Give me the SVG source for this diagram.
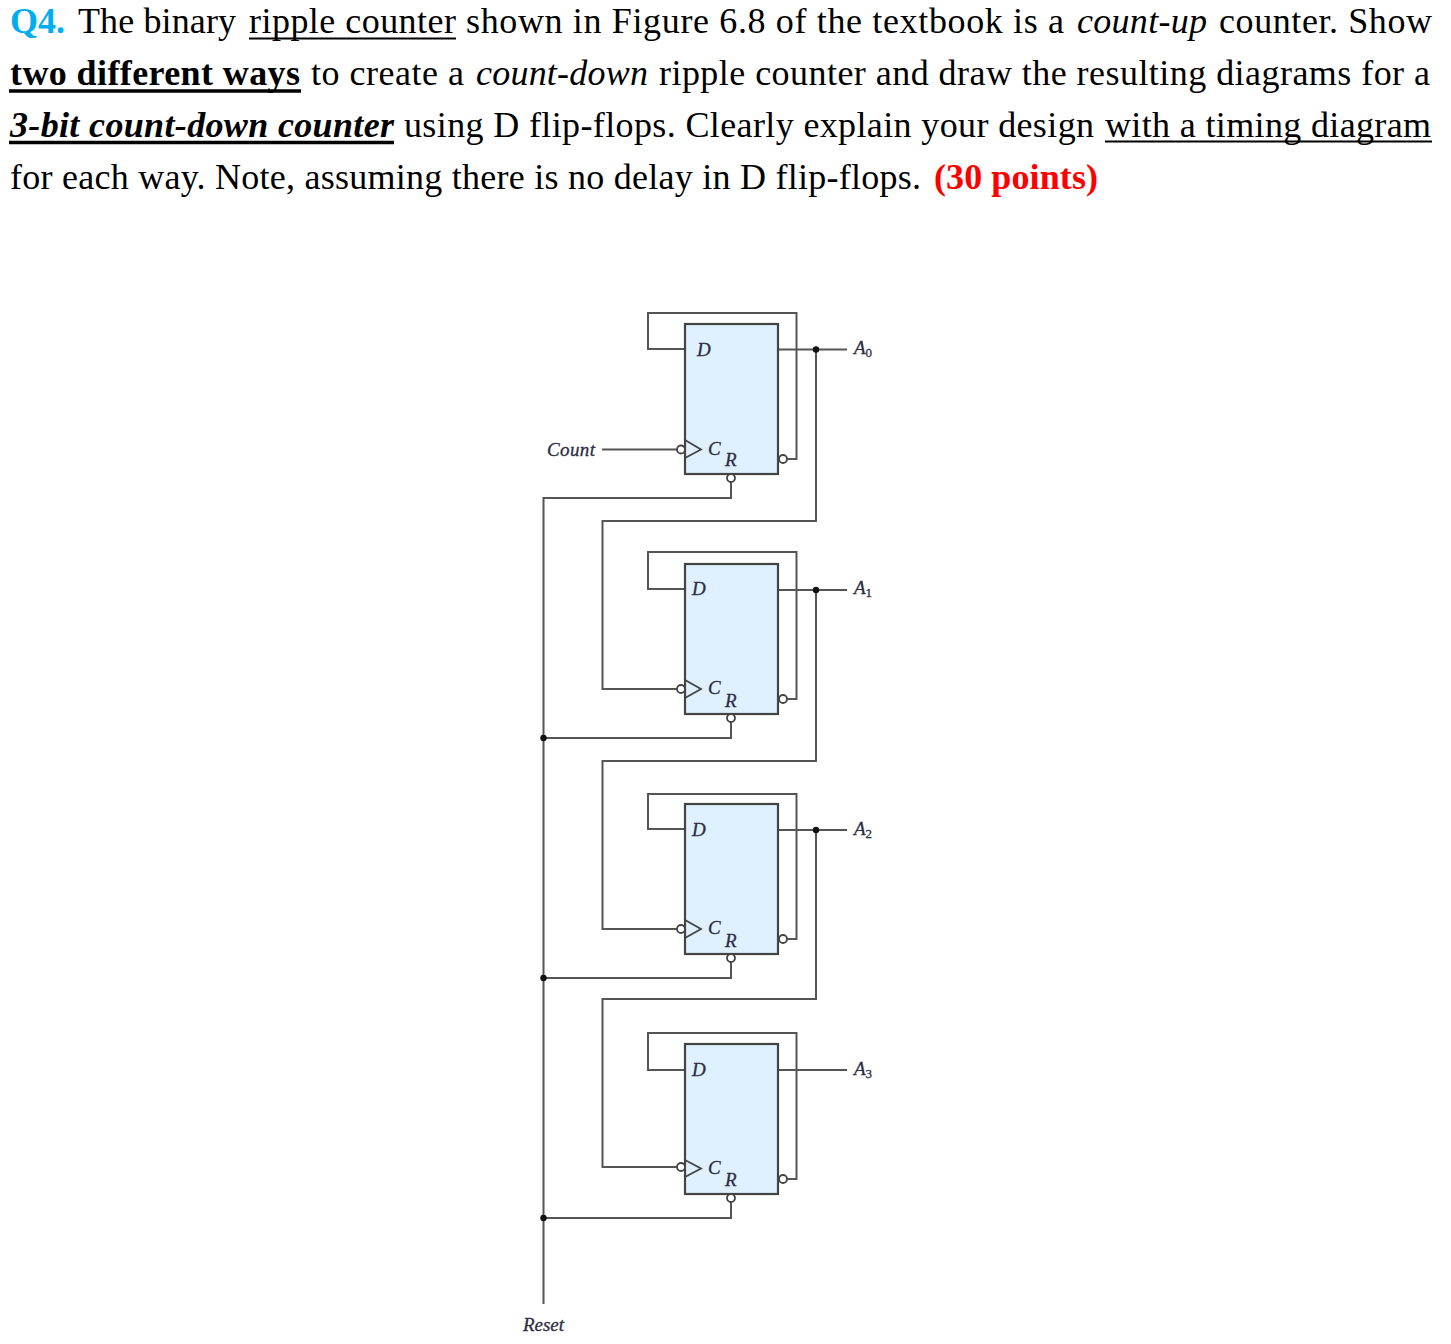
<svg xmlns="http://www.w3.org/2000/svg" width="1451" height="1344" viewBox="0 0 1451 1344">
<style>
.t{font-family:"Liberation Serif","Times New Roman",serif;font-size:36px;fill:#000}
.i{font-style:italic}
.b{font-weight:bold}
.w{fill:none;stroke:#555;stroke-width:2}
.box{fill:#dff0fe;stroke:#444;stroke-width:2.200}
.tri{fill:none;stroke:#444;stroke-width:1.800}
.bub{fill:#fff;stroke:#444;stroke-width:1.800}
.dot{fill:#111;stroke:none}
.l{font-family:"Liberation Serif","Times New Roman",serif;font-style:italic;font-size:19px;fill:#2c2c44;stroke:#2c2c44;stroke-width:.3}
.s{font-size:13px;font-style:normal}
.u{stroke:#000;stroke-width:2;fill:none}
.ub{stroke:#000;stroke-width:3.500;fill:none}
</style>
<rect width="1451" height="1344" fill="#fff"/>
<g id="question">
<text class="t b" x="10" y="33" style="fill:#00aeef" textLength="55" lengthAdjust="spacing">Q4.</text>
<text class="t" x="78" y="33" textLength="158" lengthAdjust="spacing">The binary</text>
<text class="t" x="249" y="33" textLength="207" lengthAdjust="spacing">ripple counter</text>
<text class="t" x="466" y="33" textLength="598" lengthAdjust="spacing">shown in Figure 6.8 of the textbook is a</text>
<text class="t i" x="1077" y="33" textLength="130" lengthAdjust="spacing">count-up</text>
<text class="t" x="1219" y="33" textLength="213" lengthAdjust="spacing">counter. Show</text>
<path class="u" d="M249 38.500H456"/>
<text class="t b" x="10" y="85" textLength="290" lengthAdjust="spacing">two different ways</text>
<text class="t" x="311" y="85" textLength="153" lengthAdjust="spacing">to create a</text>
<text class="t i" x="476" y="85" textLength="172" lengthAdjust="spacing">count-down</text>
<text class="t" x="659" y="85" textLength="771" lengthAdjust="spacing">ripple counter and draw the resulting diagrams for a</text>
<path class="ub" d="M9 91H301"/>
<text class="t b i" x="10" y="137" textLength="384" lengthAdjust="spacing">3-bit count-down counter</text>
<text class="t" x="404" y="137" textLength="690" lengthAdjust="spacing">using D flip-flops. Clearly explain your design</text>
<text class="t" x="1105" y="137" textLength="326" lengthAdjust="spacing">with a timing diagram</text>
<path class="ub" d="M9 142.500H394"/>
<path class="u" d="M1105 141.500H1432"/>
<text class="t" x="10" y="189" textLength="911" lengthAdjust="spacing">for each way. Note, assuming there is no delay in D flip-flops.</text>
<text class="t b" x="934" y="189" style="fill:#f00" textLength="164" lengthAdjust="spacing">(30 points)</text>
</g>
<g id="connectors">
<path class="w" d="M685 349H648V313H796.500V459H787"/>
<path class="w" d="M685 589H648V552H796.500V699H787"/>
<path class="w" d="M685 829H648V794H796.500V939H787"/>
<path class="w" d="M685 1070H648V1033H796.500V1179H787"/>
<path class="w" d="M778 349.500H847"/>
<path class="w" d="M778 590H847"/>
<path class="w" d="M778 830H847"/>
<path class="w" d="M778 1070H847"/>
<path class="w" d="M602 449.500H677"/>
<path class="w" d="M816 349.500V521H602.500V689H677"/>
<path class="w" d="M816 590V761H602.500V929H677"/>
<path class="w" d="M816 830V999H602.500V1167H677"/>
<path class="w" d="M731 482V498H543.500V1304"/>
<path class="w" d="M731 722V738H543.500"/>
<path class="w" d="M731 962V978H543.500"/>
<path class="w" d="M731 1202V1218H543.500"/>
<circle class="dot" cx="816" cy="349.500" r="3.200"/>
<circle class="dot" cx="816" cy="590" r="3.200"/>
<circle class="dot" cx="816" cy="830" r="3.200"/>
<circle class="dot" cx="543.500" cy="738" r="3.200"/>
<circle class="dot" cx="543.500" cy="978" r="3.200"/>
<circle class="dot" cx="543.500" cy="1218" r="3.200"/>
</g>
<g id="ff0">
<rect class="box" x="685" y="324" width="93" height="150"/>
<path class="tri" d="M685 440L701 449.500L685 458"/>
<circle class="bub" cx="681" cy="449.500" r="4"/><circle class="bub" cx="783" cy="459" r="4"/><circle class="bub" cx="731" cy="478" r="4"/>
<text class="l" x="697" y="356">D</text><text class="l" x="708" y="455">C</text><text class="l" x="725" y="466">R</text>
</g>
<g id="ff1">
<rect class="box" x="685" y="564" width="93" height="150"/>
<path class="tri" d="M685 680L701 689L685 698"/>
<circle class="bub" cx="681" cy="689" r="4"/><circle class="bub" cx="783" cy="699" r="4"/><circle class="bub" cx="731" cy="718" r="4"/>
<text class="l" x="692" y="595">D</text><text class="l" x="708" y="694">C</text><text class="l" x="725" y="707">R</text>
</g>
<g id="ff2">
<rect class="box" x="685" y="804" width="93" height="150"/>
<path class="tri" d="M685 920L701 929L685 938"/>
<circle class="bub" cx="681" cy="929" r="4"/><circle class="bub" cx="783" cy="939" r="4"/><circle class="bub" cx="731" cy="958" r="4"/>
<text class="l" x="692" y="836">D</text><text class="l" x="708" y="934">C</text><text class="l" x="725" y="947">R</text>
</g>
<g id="ff3">
<rect class="box" x="685" y="1044" width="93" height="150"/>
<path class="tri" d="M685 1160L701 1168.500L685 1177"/>
<circle class="bub" cx="681" cy="1167" r="4"/><circle class="bub" cx="783" cy="1179" r="4"/><circle class="bub" cx="731" cy="1198" r="4"/>
<text class="l" x="692" y="1076">D</text><text class="l" x="708" y="1174">C</text><text class="l" x="725" y="1186">R</text>
</g>
<g id="labels">
<text class="l" x="547" y="456" textLength="48" lengthAdjust="spacing">Count</text>
<text class="l" x="523" y="1331" textLength="41" lengthAdjust="spacing">Reset</text>
<text class="l" x="854" y="354">A<tspan class="s" dy="3">0</tspan></text>
<text class="l" x="854" y="594">A<tspan class="s" dy="3">1</tspan></text>
<text class="l" x="854" y="835">A<tspan class="s" dy="3">2</tspan></text>
<text class="l" x="854" y="1075">A<tspan class="s" dy="3">3</tspan></text>
</g>
</svg>
